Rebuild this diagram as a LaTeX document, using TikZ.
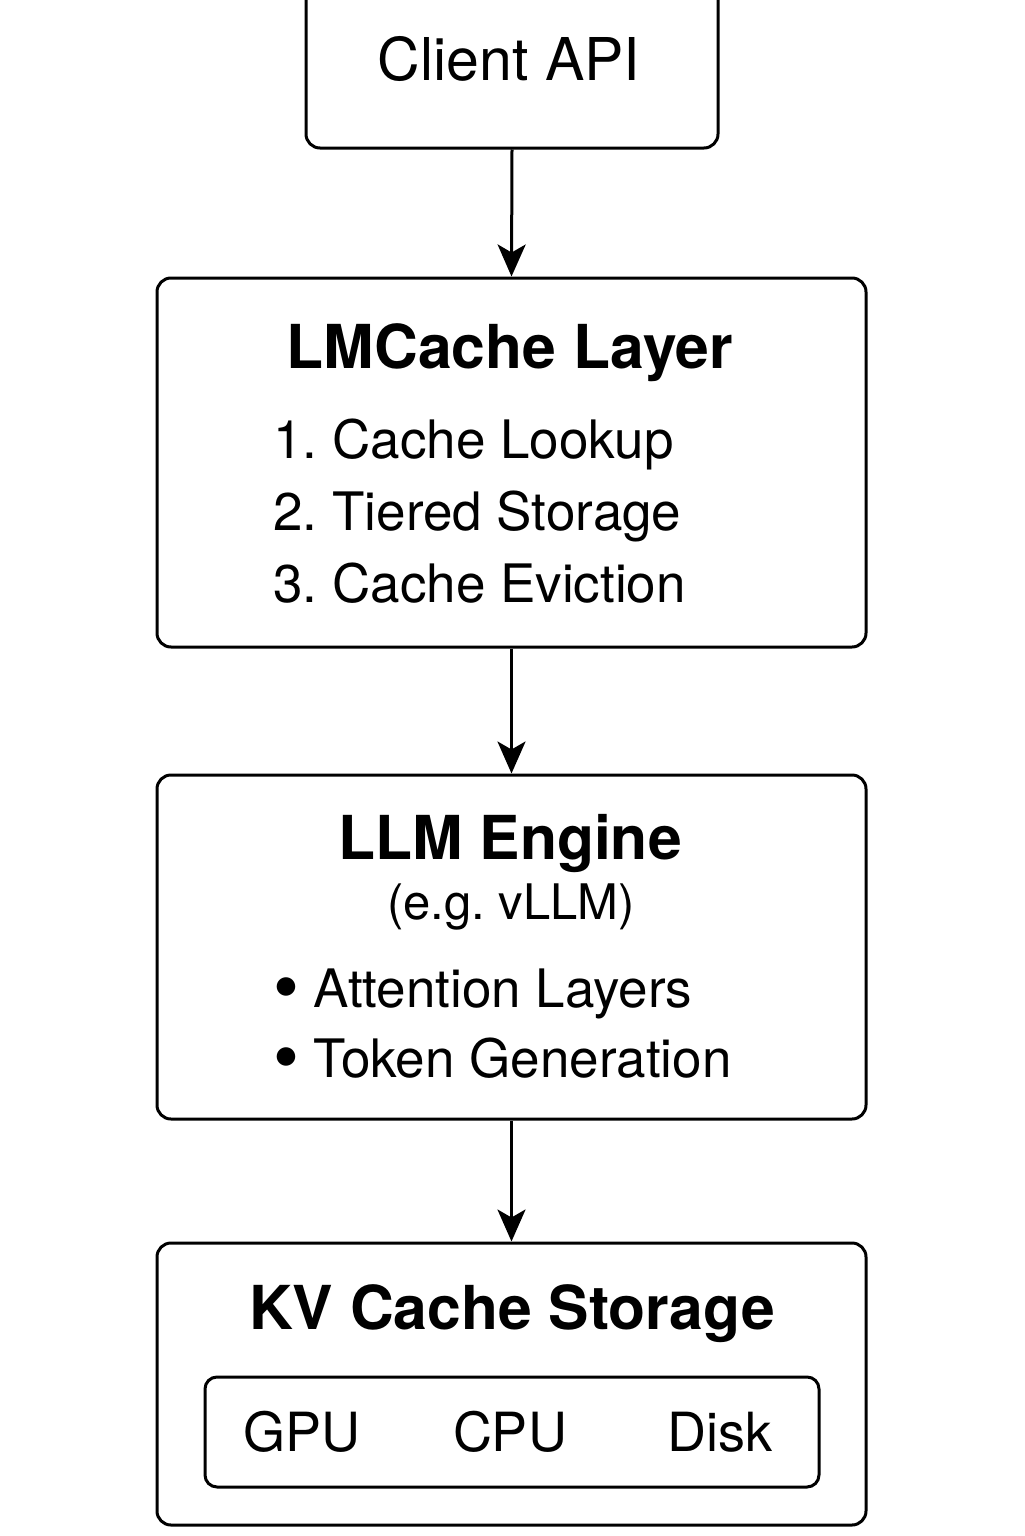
\documentclass[tikz,border=0pt]{standalone}
\usepackage{fontspec}
\setmainfont{TeX Gyre Heros}
\usetikzlibrary{arrows.meta}
\newcommand{\bigdot}{\smash{\raisebox{-2.5pt}{\fontsize{37}{37}\selectfont\textbullet}}\hspace{7pt}}
\frenchspacing

\begin{document}
\begin{tikzpicture}[->,>={Stealth[length=16pt,width=14pt,inset=4pt]},x=0.5pt,y=-0.5pt,
                    line width=1.5pt]
  \tikzstyle{layer}=[draw=black,rounded corners=7pt,minimum width=354.5pt,inner sep=0pt]
  \tikzstyle{title}=[font=\fontsize{30.3}{36}\selectfont\bfseries,anchor=base,inner sep=0pt]
  \tikzstyle{item}=[font=\fontsize{26.5}{36}\selectfont,anchor=base west,inner sep=0pt]
  \tikzstyle{unit}=[font=\fontsize{27}{32}\selectfont,anchor=base,inner sep=0pt]

  \useasboundingbox (0,0) rectangle (1024,1536);

  % the four layers
  \node[layer, minimum width=206pt, minimum height=88pt] (client) at (512,60) {};
  \node[layer, minimum height=184.5pt] (lmc) at (511.5,462.5) {};
  \node[layer, minimum height=172pt]   (llm) at (511.5,947) {};
  \node[layer, minimum height=141pt]   (kv)  at (511.5,1384) {};
  \node[layer, rounded corners=6pt, minimum width=307pt, minimum height=55pt] (tiers) at (512,1432) {};

  \node[font=\fontsize{29.5}{36}\selectfont, anchor=base, inner sep=0pt] (clientname) at (509,81) {Client API};

  \node[title] (lmctitle) at (510,368) {LMCache Layer};
  \node[item]  (lookup)   at (272,458) {1. Cache Lookup};
  \node[item]  (tiered)   at (272,530) {2. Tiered Storage};
  \node[item]  (evict)    at (272,602) {3. Cache Eviction};

  \node[title] (llmtitle) at (510,859) {LLM Engine};
  \node[font=\fontsize{24.5}{30}\selectfont, anchor=base, inner sep=0pt] (llmnote) at (511,919) {(e.g. vLLM)};
  \node[item]  (attn)     at (272,1007) {\bigdot Attention Layers};
  \node[item]  (tokgen)   at (272,1077) {\bigdot Token Generation};

  \node[title] (kvtitle)  at (512,1329) {KV Cache Storage};
  \node[unit]  (gpu)      at (302,1451) {GPU};
  \node[unit]  (cpu)      at (510,1451) {CPU};
  \node[unit]  (disk)     at (720,1451) {Disk};

  \path (client.south) edge (lmc.north)
        (lmc.south)    edge (llm.north)
        (llm.south)    edge (kv.north);

\end{tikzpicture}
\end{document}
